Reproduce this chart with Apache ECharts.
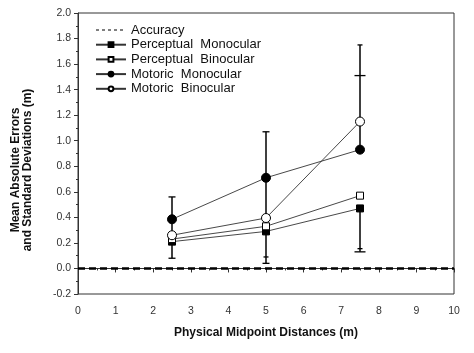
<!DOCTYPE html>
<html>
<head>
<meta charset="utf-8">
<script src="https://cdn.jsdelivr.net/npm/echarts@6/dist/echarts.min.js"></script>
<style>
  html, body { margin: 0; padding: 0; background: #fff; }
  #chart { width: 474px; height: 353px; }
</style>
</head>
<body>
<div id="chart"></div>
<script>
// distances (m)
var distances = [2.5, 5, 7.5];
// mean absolute errors per condition
var perceptualMono = [0.21, 0.29, 0.47];
var perceptualBino = [0.23, 0.33, 0.57];
var motoricMono = [0.385, 0.71, 0.93];
var motoricBino = [0.26, 0.395, 1.15];
// error bar stems: x, low, high
var barX = [2.5, 5, 7.5, 7.5];
var barLow = [0.08, 0.04, 0.13, 0.93];
var barHigh = [0.56, 1.07, 0.47, 1.75];
// error bar caps, grouped by width
var capsWide = [[7.5, 1.51], [7.5, 0.13]];
var capsMid = [[2.5, 0.56], [2.5, 0.08], [5, 1.07], [5, 0.04]];
var capsNarrow = [[5, 0.09], [7.5, 1.75], [7.5, 0.155]];

var font = '"Liberation Sans", Arial, sans-serif';

function pairs(ys) {
  return distances.map(function (x, i) { return [x, ys[i]]; });
}

function lineSeries(name, ys, symbol, size, filled) {
  return {
    name: name,
    type: 'line',
    data: pairs(ys),
    symbol: symbol,
    symbolSize: size,
    showAllSymbol: true,
    z: 5,
    lineStyle: { color: '#333', width: 0.9 },
    itemStyle: { color: filled ? '#000' : '#fff', borderColor: '#000', borderWidth: 1 }
  };
}

function capSeries(data, half) {
  return {
    type: 'custom',
    data: data,
    z: 4,
    silent: true,
    renderItem: function (params, api) {
      var p = api.coord([api.value(0), api.value(1)]);
      return {
        type: 'line',
        shape: { x1: p[0] - half, y1: p[1], x2: p[0] + half, y2: p[1] },
        style: { stroke: '#000', lineWidth: 1.3 }
      };
    }
  };
}

var stemData = barX.map(function (x, i) { return [x, barLow[i], barHigh[i]]; });

var chart = echarts.init(document.getElementById('chart'));
chart.setOption({
  animation: false,
  backgroundColor: '#fff',
  grid: { left: 78, right: 20, top: 13, bottom: 59, show: true, borderColor: '#333', borderWidth: 1 },
  xAxis: {
    type: 'value', min: 0, max: 10, interval: 1,
    name: 'Physical Midpoint Distances (m)',
    nameLocation: 'middle', nameGap: 33,
    nameTextStyle: { fontFamily: font, fontWeight: 'bold', fontSize: 12, color: '#111' },
    axisLine: { lineStyle: { color: '#333' } },
    axisTick: { inside: false, length: 4, lineStyle: { color: '#333' } },
    minorTick: { show: true, splitNumber: 2, length: 2, lineStyle: { color: '#333' } },
    splitLine: { show: false },
    axisLabel: { fontFamily: font, fontSize: 10.5, color: '#333', margin: 12 }
  },
  yAxis: {
    type: 'value', min: -0.2, max: 2.0, interval: 0.2,
    axisLine: { show: true, lineStyle: { color: '#333' } },
    axisTick: { show: true, inside: false, length: 4, lineStyle: { color: '#333' } },
    minorTick: { show: true, splitNumber: 2, length: 2, lineStyle: { color: '#333' } },
    splitLine: { show: false },
    axisLabel: {
      fontFamily: font, fontSize: 10.5, color: '#333', margin: 7,
      formatter: function (v) { return v.toFixed(1); }
    }
  },
  legend: {
    orient: 'vertical', left: 95, top: 23.5, padding: 0,
    itemWidth: 30, itemHeight: 6, itemGap: 1.7,
    textStyle: { fontFamily: font, fontSize: 13, color: '#111', lineHeight: 12 },
    data: [
      { name: 'Accuracy', itemStyle: { opacity: 0 }, lineStyle: { width: 1, type: [3, 3] } },
      'Perceptual  Monocular', 'Perceptual  Binocular',
      { name: 'Motoric  Monocular', lineStyle: { width: 2 } },
      'Motoric  Binocular'
    ]
  },
  graphic: [{
    type: 'text', x: 22, y: 170, rotation: Math.PI / 2,
    style: {
      text: 'Mean Absolute Errors\nand Standard Deviations (m)',
      font: 'bold 12px ' + font, fill: '#111',
      align: 'center', verticalAlign: 'middle', lineHeight: 12
    }
  }],
  series: [
    {
      name: 'Accuracy', type: 'line', data: [[0, 0], [10, 0]],
      symbol: 'none', z: 3,
      lineStyle: { color: '#000', width: 2.5, type: [7, 4] },
      itemStyle: { color: '#000' }
    },
    lineSeries('Perceptual  Monocular', perceptualMono, 'rect', 7, true),
    lineSeries('Perceptual  Binocular', perceptualBino, 'rect', 7, false),
    lineSeries('Motoric  Monocular', motoricMono, 'circle', 9, true),
    lineSeries('Motoric  Binocular', motoricBino, 'circle', 9, false),
    {
      type: 'custom', data: stemData, z: 4, silent: true,
      renderItem: function (params, api) {
        var a = api.coord([api.value(0), api.value(1)]);
        var b = api.coord([api.value(0), api.value(2)]);
        return {
          type: 'line',
          shape: { x1: a[0], y1: a[1], x2: b[0], y2: b[1] },
          style: { stroke: '#000', lineWidth: 1.5 }
        };
      }
    },
    capSeries(capsWide, 5.5),
    capSeries(capsMid, 3.5),
    capSeries(capsNarrow, 2.5)
  ]
});
</script>
</body>
</html>
